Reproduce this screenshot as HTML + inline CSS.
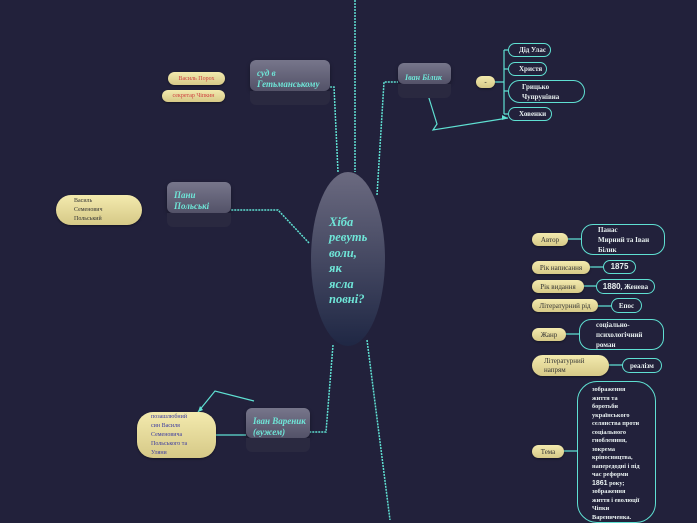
<!DOCTYPE html>
<html><head><meta charset="utf-8"><style>
body{margin:0;width:697px;height:520px;background:#22213b;overflow:hidden;position:relative;font-family:"Liberation Serif","DejaVu Serif",serif}
.pill{position:absolute;background:linear-gradient(#f3eaae,#d6c987);border-radius:12px;color:#333;font-size:7px;font-weight:bold;display:flex;align-items:center;box-sizing:border-box;box-shadow:0 1px 2px #0006}
.box{position:absolute;border:1.5px solid #5fe0d2;border-radius:12px;color:#e8f0f0;font-size:7px;font-weight:bold;box-sizing:border-box;display:flex;align-items:center;padding-left:10px;line-height:10px}
.call{position:absolute;border-radius:6px;background:linear-gradient(#77768b,#535268);color:#6fe6d8;font-style:italic;font-weight:bold;font-size:9px;box-sizing:border-box;padding:8px 0 0 7px;line-height:11px;box-shadow:0 2px 4px #0005}
.call .b{position:absolute;left:0;right:0;bottom:-14px;height:14px;background:#2a2940;border-radius:0 0 6px 6px}
</style></head><body>
<svg width="697" height="520" style="position:absolute;left:0;top:0" fill="none">
<g stroke="#5fe0d2" stroke-width="1.5" stroke-dasharray="2 1">
<path d="M355 0V172"/>
<path d="M338 172L334 87H330"/>
<path d="M377 195L384 82H398"/>
<path d="M309 243L278 210H231"/>
<path d="M333 345L326 432H310"/>
<path d="M367 340L390 520"/>
</g>
<g stroke="#5fe0d2" stroke-width="1.2">
<path d="M428 95L437 124L433 130L508 118"/>
<path d="M495 82H504M504 50V114M504 50H508M504 69H508M504 91H508M504 114H508"/>
<path d="M567 239H582M589 267H603M583 286H596M598 306H611M565 334H580M608 365H623M563 451H578"/>
<path d="M216 435H246M254 401L215 391L198 412"/>
</g>
<path d="M198 412l2-6 3 4z" fill="#5fe0d2"/>
<path d="M508 118l-6-3 0 5z" fill="#5fe0d2"/>
<defs><linearGradient id="g" x1="0" y1="0" x2="0" y2="1"><stop offset="0" stop-color="#6b6a80"/><stop offset="1" stop-color="#1f2744"/></linearGradient></defs>
<ellipse cx="348" cy="259" rx="37" ry="87" fill="url(#g)"/>
<text font-family="Liberation Serif" font-style="italic" font-weight="bold" font-size="12.5" fill="#6fe6d8"><tspan x="329" y="226">Хіба</tspan><tspan x="329" y="241">ревуть</tspan><tspan x="329" y="257">воли,</tspan><tspan x="329" y="272">як</tspan><tspan x="329" y="288">ясла</tspan><tspan x="329" y="303">повні?</tspan></text>
</svg>
<div class="call" style="left:398px;top:63px;width:53px;height:21px;padding-top:9px;font-size:8px">Іван Білик<div class="b"></div></div>
<div class="call" style="left:250px;top:60px;width:80px;height:31px">суд в<br>Гетьманському<div class="b"></div></div>
<div class="call" style="left:167px;top:182px;width:64px;height:31px">Пани<br>Польські<div class="b"></div></div>
<div class="call" style="left:246px;top:408px;width:64px;height:30px">Іван Вареник<br>(вужем)<div class="b"></div></div>
<div class="pill" style="left:168px;top:72px;width:57px;height:13px;justify-content:center;color:#d04040;font-weight:normal;font-size:6px">Василь Порох</div>
<div class="pill" style="left:162px;top:90px;width:63px;height:12px;justify-content:center;color:#d04040;font-weight:normal;font-size:6px">секретар Чіпкин</div>
<div class="pill" style="left:56px;top:195px;width:86px;height:30px;border-radius:15px;padding-left:18px;font-weight:normal;font-size:6px;line-height:9px"><div>Василь<br>Семенович<br>Польський</div></div>
<div class="pill" style="left:137px;top:412px;width:79px;height:46px;border-radius:16px;padding-left:14px;font-weight:normal;font-size:6px;line-height:9px;color:#3a3aa0"><div>позашлюбний<br>син Василя<br>Семеновича<br>Польського та<br>Уляни</div></div>
<div class="pill" style="left:476px;top:76px;width:19px;height:12px;border-radius:6px;justify-content:center">-</div>
<div class="box" style="left:508px;top:43px;width:43px;height:14px">Дід Улас</div>
<div class="box" style="left:508px;top:62px;width:39px;height:14px">Христя</div>
<div class="box" style="left:508px;top:80px;width:77px;height:23px;padding-left:13px"><div>Грицько<br>Чупрунівна</div></div>
<div class="box" style="left:508px;top:107px;width:44px;height:14px">Ховенки</div>
<div class="pill" style="left:532px;top:233px;width:36px;height:13px;justify-content:center;font-weight:normal">Автор</div>
<div class="box" style="left:581px;top:224px;width:84px;height:31px;padding-left:16px"><div>Панас<br>Мирний та Іван<br>Білик</div></div>
<div class="pill" style="left:532px;top:261px;width:58px;height:13px;justify-content:center;font-weight:normal">Рік написання</div>
<div class="box" style="left:603px;top:260px;width:33px;height:14px;justify-content:center;padding:0;font-family:'Liberation Sans';font-size:8px">1875</div>
<div class="pill" style="left:532px;top:280px;width:52px;height:13px;justify-content:center;font-weight:normal">Рік видання</div>
<div class="box" style="left:596px;top:279px;width:59px;height:15px;justify-content:center;padding:0"><div><span style="font-family:'Liberation Sans';font-size:8px">1880</span>, Женева</div></div>
<div class="pill" style="left:532px;top:299px;width:66px;height:13px;justify-content:center;font-weight:normal">Літературний рід</div>
<div class="box" style="left:611px;top:298px;width:31px;height:15px;justify-content:center;padding:0">Епос</div>
<div class="pill" style="left:532px;top:328px;width:34px;height:13px;justify-content:center;font-weight:normal">Жанр</div>
<div class="box" style="left:579px;top:319px;width:85px;height:31px;padding-left:16px"><div>соціально-<br>психологічний<br>роман</div></div>
<div class="pill" style="left:532px;top:355px;width:77px;height:21px;padding-left:12px;font-weight:normal;line-height:9px"><div>Літературний<br>напрям</div></div>
<div class="box" style="left:622px;top:358px;width:40px;height:15px;justify-content:center;padding:0">реалізм</div>
<div class="pill" style="left:532px;top:445px;width:32px;height:13px;justify-content:center;font-weight:normal">Тема</div>
<div class="box" style="display:block;left:577px;top:381px;width:79px;height:142px;border-radius:20px;padding-left:14px;font-size:6.3px;line-height:8.5px;padding-top:4px">зображення<br>життя та<br>боротьби<br>українського<br>селянства проти<br>соціального<br>гнобленння,<br>зокрема<br>кріпосництва,<br>напередодні і під<br>час реформи<br><span style="font-family:'Liberation Sans';font-size:7px">1861</span> року;<br>зображення<br>життя і еволюції<br>Чіпки<br>Варениченка.</div>
</body></html>
